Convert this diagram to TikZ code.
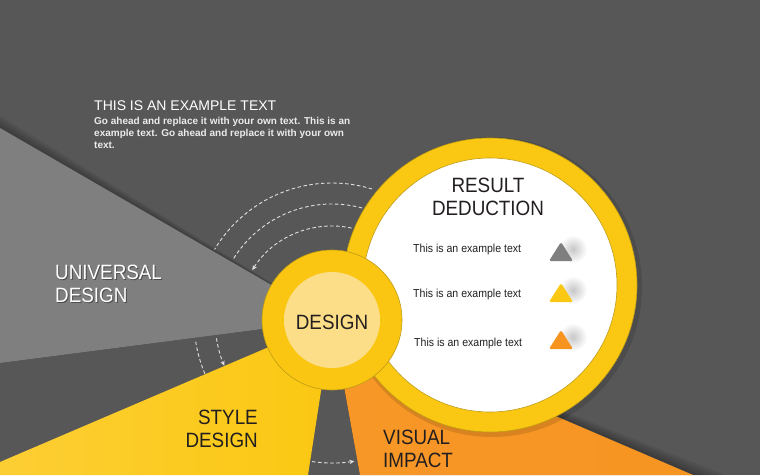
\documentclass[tikz,border=0pt]{standalone}
\usepackage{fontspec}
\setmainfont{Liberation Sans}
\newfontfamily\tallfont{Liberation Sans}[FakeStretch=0.91]
\usetikzlibrary{arrows.meta,calc}

\definecolor{slate}{RGB}{87,87,87}
\definecolor{stone}{RGB}{127,127,127}
\definecolor{sun}{RGB}{250,200,18}
\definecolor{sunlight}{RGB}{253,206,52}
\definecolor{cream}{RGB}{253,222,136}
\definecolor{amber}{RGB}{247,148,32}
\definecolor{peach}{RGB}{250,186,124}
\definecolor{rim}{RGB}{190,155,20}
\definecolor{ink}{RGB}{35,31,32}

\pgfdeclarehorizontalshading{beamfade}{100bp}{color(0bp)=(peach); color(22bp)=(amber!92!peach); color(100bp)=(amber)}

\tikzset{
	bigtext/.style={inner sep=0pt, font=\tallfont\fontsize{20.7}{23}\selectfont},
	itemtext/.style={inner sep=0pt, text=ink, font=\tallfont\fontsize{11.6}{13}\selectfont},
	flow/.style={draw=white!88!black, line width=0.9pt, dash pattern=on 3.5pt off 2.5pt},
	flowtip/.style={flow, -{Stealth[length=5pt,width=4.5pt]}}
}

\begin{document}
\begin{tikzpicture}[x=1pt,y=1pt]
		%%%%% START %%%%%
		
		\useasboundingbox (0,0) rectangle (760,475);
		\fill[slate] (0,0) rectangle (760,475);
		
		\coordinate (hub) at (332,155);
		\coordinate (lens) at (490,190);
		
		% soft shadows along the beams
		\foreach \d in {3,6,9,12}
			\fill[black, opacity=0.07] (hub) -- (0,347+\d) -- (0,112) -- cycle;
		\foreach \d in {4,8,12,16}
			\fill[black, opacity=0.08] (hub) -- (693+\d*2,0) -- (360,0) -- cycle;
		
		% beams
		\fill[stone] (hub) -- (0,347) -- (0,112) -- cycle;
		\shade[left color=sunlight, right color=sun] (hub) -- (0,13) -- (0,0) -- (308,0) -- cycle;
		\shade[shading=beamfade] (hub) -- (360,0) -- (693,0) -- cycle;
		
		% dashed flows
		\draw[flow] ([shift={(73:137)}]hub) arc (73:149:137);
		\draw[flow] ([shift={(75:116)}]hub) arc (75:149:116);
		\draw[flowtip] ([shift={(78:94)}]hub) arc (78:148:94);
		\draw[flow] ([shift={(189:138)}]hub) arc (189:204:138);
		\draw[flowtip] ([shift={(189:117)}]hub) arc (189:203:117);
		\draw[flowtip] ([shift={(262:143)}]hub) arc (262:279:143);
		
		% result circle
		\fill[black, opacity=0.12] ($(lens)+(2,-2)$) circle (150);
		\filldraw[fill=sun, draw=rim, line width=0.6pt] (lens) circle (147);
		\filldraw[fill=white, draw=rim, line width=0.6pt] (lens) circle (127);
		
		% design circle
		\filldraw[fill=sun!97!orange, draw=rim, line width=0.6pt] (hub) circle (70);
		\fill[cream] (hub) circle (48);
		
		% markers
		\foreach \y/\c in {233/stone, 192/sun, 145/amber} {
			\shade[inner color=black!22, outer color=white] (573,\y-7) circle (14);
			\fill[\c, rounded corners=1.5pt] (561,\y) -- (573,\y-19) -- (549,\y-19) -- cycle;
		}
		
		% texts
		\node[anchor=base west, inner sep=0pt, text=white, font=\fontsize{14}{16}\selectfont] (title) at (94,365) {THIS IS AN EXAMPLE TEXT};
		\node[anchor=north west, inner sep=0pt, align=left, text=white!92!black, font=\bfseries\fontsize{10}{12}\selectfont] (blurb) at (94,358.3) {Go ahead and replace it with your own text. This is an\\example text. Go ahead and replace it with your own\\text.};
		
		\node[bigtext, text=black!70, anchor=north west, align=left] (universalshade) at (56,209) {UNIVERSAL\\DESIGN};
		\node[bigtext, text=white, anchor=north west, align=left] (universal) at (55,210) {UNIVERSAL\\DESIGN};
		\node[bigtext, text=ink, anchor=north east, align=right] (style) at (258,65) {STYLE\\DESIGN};
		\node[bigtext, text=ink, anchor=north west, align=left] (visual) at (383,45) {VISUAL\\IMPACT};
		\node[bigtext, text=ink, anchor=north, align=center] (result) at (488,297) {RESULT\\DEDUCTION};
		\node[bigtext, text=ink] (design) at (332,152.5) {DESIGN};
		
		\node[itemtext, anchor=north west] (item1) at (413,231) {This is an example text};
		\node[itemtext, anchor=north west] (item2) at (413,186) {This is an example text};
		\node[itemtext, anchor=north west] (item3) at (414,137) {This is an example text};
		
		%%%%% END %%%%%
\end{tikzpicture}
\end{document}
